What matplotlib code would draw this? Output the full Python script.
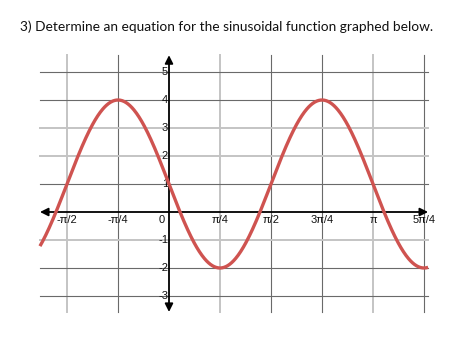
import numpy as np
import matplotlib
matplotlib.use('Agg')
import matplotlib.pyplot as plt

# sinusoid: max 4 at -pi/4, min -2 at pi/4, period pi
amplitude = 3.0
midline = 1.0
period = np.pi
peak_x = -np.pi / 4

# grid / tick layout (x in units of pi/4)
x_ticks = [-2, -1, 0, 1, 2, 3, 4, 5]
x_labels = ['-\u03c0/2', '-\u03c0/4', '0', '\u03c0/4', '\u03c0/2', '3\u03c0/4', '\u03c0', '5\u03c0/4']
y_ticks = [5, 4, 3, 2, 1, -1, -2, -3]
x_light = [-2, 1, 4]
y_light = [3, -1, 2]

title = '3) Determine an equation for the sinusoidal function graphed below.'

q = np.pi / 4
x_min, x_max = -2.53 * q, 5.08 * q
y_min, y_max = -3.57, 5.6

fig = plt.figure(figsize=(4.63, 3.43), dpi=100)
ax = fig.add_axes([0, 0, 1, 1])
# pixel mapping: x=0 at px 169, 51 px per pi/4; y=0 at px 212, 28 px per unit
ax.set_xlim((0 - 169) / 51 * q, (463 - 169) / 51 * q)
ax.set_ylim((212 - 343) / 28, 212 / 28)
ax.axis('off')

for t in x_ticks:
    if t == 0:
        continue
    light = t in x_light
    ax.plot([t * q, t * q], [y_min, y_max], color='#c4c4c4' if light else '#6a6a6a',
            lw=1.4 if light else 0.8, zorder=1)
for t in y_ticks:
    light = t in y_light
    ax.plot([x_min, x_max], [t, t], color='#c4c4c4' if light else '#6a6a6a',
            lw=1.4 if light else 0.8, zorder=1)

# axes with arrows
arrow = dict(arrowstyle='-|>', color='black', lw=1.3, mutation_scale=12, shrinkA=0, shrinkB=0)
ax.annotate('', xy=(x_max, 0), xytext=(0, 0), arrowprops=arrow, zorder=3)
ax.annotate('', xy=(x_min, 0), xytext=(0, 0), arrowprops=arrow, zorder=3)
ax.annotate('', xy=(0, y_max), xytext=(0, 0), arrowprops=arrow, zorder=3)
ax.annotate('', xy=(0, y_min), xytext=(0, 0), arrowprops=arrow, zorder=3)

font = dict(family='Liberation Sans', fontsize=8, color='#111111')
for t, lab in zip(x_ticks, x_labels):
    xx = t * q if t != 0 else -0.12
    ax.text(xx, -0.28, lab, ha='center', va='center', zorder=4, **font)
for t in y_ticks:
    ax.text(-0.015, t, str(t), ha='right', va='center', zorder=4, **font)

x = np.linspace(x_min, x_max, 600)
y = amplitude * np.cos(2 * np.pi / period * (x - peak_x)) + midline
ax.plot(x, y, color='#cf5350', lw=2.4, solid_capstyle='butt', zorder=5)

fig.text(20 / 463, 1 - 27 / 343, title, ha='left', va='center',
         family='Lato', fontsize=9.9, color='#111111')

fig.savefig('out.png', dpi=100)
plt.close()
